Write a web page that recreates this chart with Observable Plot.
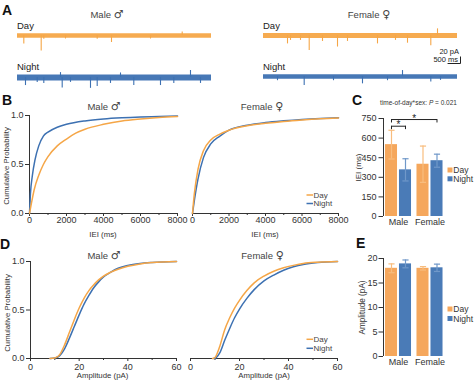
<!DOCTYPE html>
<html><head><meta charset="utf-8">
<script src="https://cdn.jsdelivr.net/npm/d3@7"></script>
<script src="https://cdn.jsdelivr.net/npm/@observablehq/plot@0.6"></script>
<style>
body{margin:0;background:#fff;}
#fig{position:relative;width:474px;height:384px;overflow:hidden;background:#fff;}
</style></head><body><div id="fig"></div>
<script>
// ---------- DATA ----------
const sexes = ["Male", "Female"];
const times = ["Day", "Night"];

// Panel A: example traces, events as [time (ms), amplitude (pA)]
const traceMs = 7500;
const maleDayEvents = [[244,-24],[916,-44],[1017,-11],[1856,-10],[3081,-11],[3634,-20],[5142,-10],[6367,10]];
const maleNightEvents = [[309,-23],[762,-14],[1017,-17],[1662,14],[1728,-30],[2049,-14],[2822,-31],[3081,-26],[3595,-17],[3982,13],[4496,-23],[5528,-23],[6043,-17],[6688,20],[7075,-17]];
const femaleDayEvents = [[928,-24],[1044,-14],[1430,-14],[1767,-43],[2281,-17],[2861,-33],[3247,-17],[4407,-24],[5103,-14],[5567,-22],[6468,-29],[6727,19]];
const femaleNightEvents = [[541,-12],[1573,-26],[2706,-12],[3827,-21],[4794,-12],[5374,17],[6468,-16],[6843,-11]];
const scaleBarMs = 500, scaleBarPA = 20;

// Panel B: cumulative probability of IEI (ms)
const ieiMaleDay = [[0,0],[100,0.1],[250,0.24],[500,0.39],[750,0.5],[1000,0.58],[1500,0.69],[2000,0.76],[2500,0.82],[3000,0.86],[4000,0.91],[5000,0.945],[6000,0.965],[7000,0.98],[8000,0.99]];
const ieiMaleNight = [[0,0],[50,0.2],[150,0.38],[300,0.55],[500,0.69],[750,0.79],[1000,0.83],[1500,0.88],[2000,0.91],[3000,0.945],[4000,0.965],[5000,0.977],[6000,0.985],[7000,0.99],[8000,0.995]];
const ieiFemaleDay = [[0,0],[100,0.2],[300,0.45],[600,0.64],[1000,0.75],[1500,0.81],[2000,0.85],[3000,0.895],[4000,0.92],[5000,0.94],[6000,0.955],[7000,0.967],[8000,0.975]];
const ieiFemaleNight = [[0,0],[100,0.13],[300,0.35],[600,0.57],[1000,0.71],[1500,0.79],[2000,0.85],[3000,0.9],[4000,0.928],[5000,0.946],[6000,0.96],[7000,0.97],[8000,0.977]];
const ieiTicks = [0, 2000, 4000, 6000, 8000];
const ieiMinorTicks = [1000, 3000, 5000, 7000];

// Panel C: mean IEI (ms) ± SEM, order = sexes
const ieiDayMean = [550, 400];
const ieiDaySem = [110, 139];
const ieiNightMean = [357, 427];
const ieiNightSem = [85, 50];
const ieiBarTicks = [0, 150, 300, 450, 600, 750];
const statText = "time-of-day*sex: ";
const statP = "0.021";
const sigBrackets = [
  {a: ["Male","Day"], b: ["Male","Night"], y: 691, label: "*"},
  {a: ["Male","Day"], b: ["Female","Night"], y: 742, label: "*"}
];

// Panel D: cumulative probability of amplitude (pA)
const ampMaleDay = [[8,0],[10,0.005],[12,0.04],[14,0.14],[16,0.27],[18,0.4],[20,0.52],[22,0.62],[24,0.7],[26,0.76],[28,0.81],[30,0.85],[33,0.89],[36,0.92],[40,0.95],[45,0.975],[50,0.99],[60,1.0]];
const ampMaleNight = [[8,0],[10,0.005],[12,0.03],[14,0.1],[16,0.21],[18,0.33],[20,0.45],[22,0.56],[24,0.65],[26,0.73],[28,0.79],[30,0.84],[33,0.89],[36,0.93],[40,0.96],[45,0.98],[50,0.99],[60,1.0]];
const ampFemaleDay = [[9,0],[10,0.01],[11,0.06],[12,0.13],[14,0.3],[16,0.42],[18,0.52],[20,0.6],[23,0.7],[26,0.78],[30,0.85],[34,0.9],[38,0.935],[42,0.96],[46,0.98],[52,0.993],[60,1.0]];
const ampFemaleNight = [[9.5,0],[10.5,0.01],[12,0.06],[14,0.19],[16,0.31],[18,0.42],[20,0.51],[23,0.62],[26,0.71],[30,0.8],[34,0.86],[38,0.91],[42,0.945],[46,0.97],[52,0.99],[60,1.0]];
const ampTicks = [0, 20, 40, 60];
const ampMinorTicks = [10, 30, 50];
const probTicks = [0, 0.5, 1];

// Panel E: mean amplitude (pA) ± SEM, order = sexes
const ampDayMean = [18.0, 18.0];
const ampDaySem = [0.9, 0.35];
const ampNightMean = [18.9, 18.1];
const ampNightSem = [0.8, 0.75];
const ampBarTicks = [0, 5, 10, 15, 20];

// ---------- STYLE ----------
const FONT = "'Liberation Sans', Arial, Helvetica, sans-serif";
const AX = "#333";
const LINE = {Day: "#f5a647", Night: "#3d71b2"};
const BAR = {Day: "#f5a75c", Night: "#4a7bb7"};
const ERR = {Day: "#f8bd7e", Night: "#7098c9"};
const fig = document.getElementById("fig");
const baseStyle = {fontFamily: FONT, fontSize: "9px", color: AX, background: "none", overflow: "visible"};
const plain = d => String(d);

function mount(node, left, top) {
  node.style.position = "absolute";
  node.style.left = left + "px";
  node.style.top = top + "px";
  fig.appendChild(node);
}

// ---------- PANEL A ----------
const pxPerPA = 0.35, aboveBase = 12, traceH = 44;
function tracePlot(events, noisePx, color, left, baseline, extra = []) {
  const node = Plot.plot({
    width: 194, height: traceH, margin: 0,
    x: {domain: [0, traceMs], axis: null},
    y: {domain: [-(traceH - aboveBase) / pxPerPA, aboveBase / pxPerPA], axis: null},
    style: baseStyle,
    marks: [
      Plot.ruleY([0], {stroke: color, strokeWidth: noisePx, strokeOpacity: 0.95}),
      Plot.ruleX(events, {x: d => d[0], y1: 0, y2: d => d[1], stroke: color, strokeWidth: 1.1}),
      ...extra
    ]
  });
  mount(node, left, baseline - aboveBase);
}
const sbX = 7616, sbY = -80;
const scaleBar = [
  Plot.link([scaleBarMs], {x1: d => sbX - d, x2: sbX, y1: sbY, y2: sbY, stroke: "#222", strokeWidth: 1}),
  Plot.link([scaleBarPA], {x1: sbX, x2: sbX, y1: sbY, y2: d => sbY + d, stroke: "#222", strokeWidth: 1})
];
tracePlot(maleDayEvents, 4.5, LINE.Day, 17, 34.5);
tracePlot(maleNightEvents, 6, LINE.Night, 17, 77);
tracePlot(femaleDayEvents, 5.2, LINE.Day, 263, 35, scaleBar);
tracePlot(femaleNightEvents, 4.6, LINE.Night, 263, 76);

// ---------- CDF PANELS (B, D) ----------
function cdfPlot({left, top, width, height, mL, mR, mT, mB, xDomain, major, minor, day, night, yAxis, pad}) {
  const marks = [
    Plot.ruleY([0], {stroke: AX, strokeWidth: 1}),
    Plot.axisX({ticks: major, tickSize: 3, tickPadding: pad, label: null, tickFormat: plain}),
    Plot.axisX({ticks: minor, tickSize: 2, tickFormat: () => "", label: null}),
    Plot.line(night, {x: d => d[0], y: d => d[1], stroke: LINE.Night, strokeWidth: 1.5, curve: "monotone-x"}),
    Plot.line(day, {x: d => d[0], y: d => d[1], stroke: LINE.Day, strokeWidth: 1.5, curve: "monotone-x"})
  ];
  if (yAxis) {
    marks.unshift(Plot.ruleX([xDomain[0]], {stroke: AX, strokeWidth: 1}));
    marks.push(Plot.axisY({ticks: probTicks, tickFormat: d3.format(".1f"), tickSize: 4, tickPadding: 2, label: null}));
  }
  const node = Plot.plot({
    width, height, marginLeft: mL, marginRight: mR, marginTop: mT, marginBottom: mB,
    x: {domain: xDomain},
    y: {domain: [0, 1], axis: yAxis ? undefined : null},
    style: baseStyle,
    marks
  });
  mount(node, left, top);
}
cdfPlot({left: 0, top: 100, width: 185, height: 140, mL: 29, mR: 8, mT: 15, mB: 27, xDomain: [0, 8000], major: ieiTicks, minor: ieiMinorTicks, day: ieiMaleDay, night: ieiMaleNight, yAxis: true, pad: 0.5});
cdfPlot({left: 185, top: 100, width: 155, height: 140, mL: 7, mR: 2, mT: 15, mB: 27, xDomain: [0, 8000], major: ieiTicks, minor: ieiMinorTicks, day: ieiFemaleDay, night: ieiFemaleNight, yAxis: false, pad: 0.5});
cdfPlot({left: 0, top: 245, width: 185, height: 135, mL: 30, mR: 9, mT: 16, mB: 22, xDomain: [0, 60], major: ampTicks, minor: ampMinorTicks, day: ampMaleDay, night: ampMaleNight, yAxis: true, pad: 2});
cdfPlot({left: 185, top: 245, width: 155, height: 135, mL: 5, mR: 3, mT: 16, mB: 22, xDomain: [0, 60], major: ampTicks, minor: ampMinorTicks, day: ampFemaleDay, night: ampFemaleNight, yAxis: false, pad: 2});

// ---------- BAR PANELS (C, E) ----------
const groupGap = 0.25;
const pos = (sex, time) => sexes.indexOf(sex) * (times.length + groupGap) + times.indexOf(time);
const groupCenter = sex => (pos(sex, times[0]) + pos(sex, times[times.length - 1])) / 2;
function rowsFrom(dayMean, daySem, nightMean, nightSem) {
  const rows = [];
  sexes.forEach((s, i) => {
    rows.push({sex: s, time: "Day", mean: dayMean[i], sem: daySem[i]});
    rows.push({sex: s, time: "Night", mean: nightMean[i], sem: nightSem[i]});
  });
  return rows;
}
function barPlot({left, top, height, mT, mB, rows, yDomain, yTicks, brackets = [], tickPad}) {
  const half = 0.43, cap = 0.22, xDomain = [-0.571, 3.786];
  const p = d => pos(d.sex, d.time);
  const marks = [
    Plot.ruleX([xDomain[0]], {stroke: AX, strokeWidth: 1}),
    Plot.rectY(rows, {x1: d => p(d) - half, x2: d => p(d) + half, y1: 0, y2: "mean", fill: "time"})
  ];
  for (const t of times) {
    const r = rows.filter(d => d.time === t);
    marks.push(
      Plot.ruleX(r, {x: p, y1: d => d.mean - d.sem, y2: d => d.mean + d.sem, stroke: ERR[t], strokeWidth: 1.2}),
      Plot.link(r, {x1: d => p(d) - cap, x2: d => p(d) + cap, y1: d => d.mean + d.sem, y2: d => d.mean + d.sem, stroke: ERR[t], strokeWidth: 1.2}),
      Plot.link(r, {x1: d => p(d) - cap, x2: d => p(d) + cap, y1: d => d.mean - d.sem, y2: d => d.mean - d.sem, stroke: ERR[t], strokeWidth: 1.2})
    );
  }
  if (brackets.length) {
    const drop = (yDomain[1] - yDomain[0]) * 0.035;
    const pa = d => pos(...d.a), pb = d => pos(...d.b);
    marks.push(
      Plot.link(brackets, {x1: pa, x2: pb, y1: "y", y2: "y", stroke: "#222", strokeWidth: 1}),
      Plot.ruleX(brackets, {x: pa, y1: "y", y2: d => d.y - drop, stroke: "#222", strokeWidth: 1}),
      Plot.ruleX(brackets, {x: pb, y1: "y", y2: d => d.y - drop, stroke: "#222", strokeWidth: 1}),
      Plot.text(brackets, {x: d => (pa(d) + pb(d)) / 2, y: "y", text: "label", fontSize: 10, fill: "#222", dy: -1})
    );
  }
  marks.push(
    Plot.axisY({ticks: yTicks, tickSize: 4.5, tickPadding: tickPad, label: null, tickFormat: plain}),
    Plot.axisX({ticks: sexes.map(groupCenter), tickFormat: v => sexes.find(s => groupCenter(s) === v), tickSize: 0, tickPadding: 2.5, label: null})
  );
  const node = Plot.plot({
    width: 134, height, marginLeft: 43, marginRight: 30, marginTop: mT, marginBottom: mB,
    x: {domain: xDomain},
    y: {domain: yDomain},
    color: {domain: times, range: times.map(t => BAR[t])},
    style: baseStyle,
    marks
  });
  mount(node, left, top);
}
barPlot({left: 340, top: 100, height: 135, mT: 18, mB: 19, rows: rowsFrom(ieiDayMean, ieiDaySem, ieiNightMean, ieiNightSem), yDomain: [0, 750], yTicks: ieiBarTicks, brackets: sigBrackets, tickPad: 2.5});
barPlot({left: 340, top: 245, height: 130, mT: 13, mB: 19, rows: rowsFrom(ampDayMean, ampDaySem, ampNightMean, ampNightSem), yDomain: [0, 20], yTicks: ampBarTicks, tickPad: 1.5});

// ---------- TEXT OVERLAY ----------
const over = d3.select(fig).append("svg")
  .attr("width", 474).attr("height", 384)
  .style("position", "absolute").style("left", 0).style("top", 0)
  .style("pointer-events", "none").style("font-family", FONT);
function txt(s, x, y, o = {}) {
  const t = over.append("text").attr("x", x).attr("y", y)
    .attr("font-size", o.size || 9).attr("text-anchor", o.anchor || "start")
    .attr("fill", o.color || "#333").text(s);
  if (o.weight) t.attr("font-weight", o.weight);
  if (o.rotate) t.attr("transform", `rotate(-90 ${x} ${y})`);
  return t;
}
// panel letters
[["A", 2, 15], ["B", 2, 105], ["C", 352, 105], ["D", 0, 249], ["E", 356, 248]]
  .forEach(([s, x, y]) => txt(s, x, y, {size: 14, weight: "bold", color: "#111"}));
// titles with sex symbol
const sexSymbol = {Male: "\u2642", Female: "\u2640"};
function sexTitle(sex, x, y) {
  const t = txt(sex + " ", x, y, {size: 9.5, anchor: "middle", color: "#444"});
  t.append("tspan").attr("font-family", "'DejaVu Sans', sans-serif").attr("font-size", 11).text(sexSymbol[sex]);
}
sexTitle("Male", 107, 18);
sexTitle("Female", 369, 18);
sexTitle("Male", 104, 109.5);
sexTitle("Female", 262, 109.5);
sexTitle("Male", 104, 259);
sexTitle("Female", 262.5, 259);
// trace labels
txt(times[0], 17, 28.5, {size: 9.5, color: "#222"});
txt(times[1], 17, 70, {size: 9.5, color: "#222"});
txt(times[0], 263, 28.5, {size: 9.5, color: "#222"});
txt(times[1], 263, 70, {size: 9.5, color: "#222"});
txt(`${scaleBarPA} pA`, 459, 53.5, {size: 7.5, anchor: "end", color: "#222"});
txt(`${scaleBarMs} ms`, 458, 61.5, {size: 7.5, anchor: "end", color: "#222"});
// axis titles
txt("Cumulative Probability", 9, 166, {size: 7.8, anchor: "middle", rotate: true});
txt("Cumulative Probability", 10, 313, {size: 7.8, anchor: "middle", rotate: true});
txt("IEI (ms)", 103, 237, {size: 7.8, anchor: "middle"});
txt("IEI (ms)", 265, 237, {size: 7.8, anchor: "middle"});
txt("Amplitude (pA)", 102.5, 378, {size: 7.8, anchor: "middle"});
txt("Amplitude (pA)", 264, 378, {size: 7.8, anchor: "middle"});
txt("IEI (ms)", 360.5, 167.5, {size: 8, anchor: "middle", rotate: true});
txt("Amplitude (pA)", 365, 307.5, {size: 8.2, anchor: "middle", rotate: true});
// stats title
const st = txt(statText, 418.5, 105, {size: 6.5, anchor: "middle", color: "#333"});
st.append("tspan").attr("font-style", "italic").text("P");
st.append("tspan").text(" = " + statP);
// line legends (B, D)
function lineLegend(x, ys) {
  times.forEach((t, i) => {
    over.append("line").attr("x1", x).attr("x2", x + 6.5).attr("y1", ys[i]).attr("y2", ys[i])
      .attr("stroke", LINE[t]).attr("stroke-width", 1.5);
    txt(t, x + 7, ys[i] + 2.8, {size: 8, color: "#444"});
  });
}
lineLegend(306.5, [195, 203.5]);
lineLegend(306.5, [339.3, 348.3]);
// square legends (C, E)
function boxLegend(x, ys) {
  times.forEach((t, i) => {
    over.append("rect").attr("x", x).attr("y", ys[i] - 2.5).attr("width", 5).attr("height", 5).attr("fill", BAR[t]);
    txt(t, x + 5.8, ys[i] + 3, {size: 8.5, color: "#333"});
  });
}
boxLegend(447.5, [170, 178.8]);
boxLegend(447.5, [309, 318.5]);
</script></body></html>
